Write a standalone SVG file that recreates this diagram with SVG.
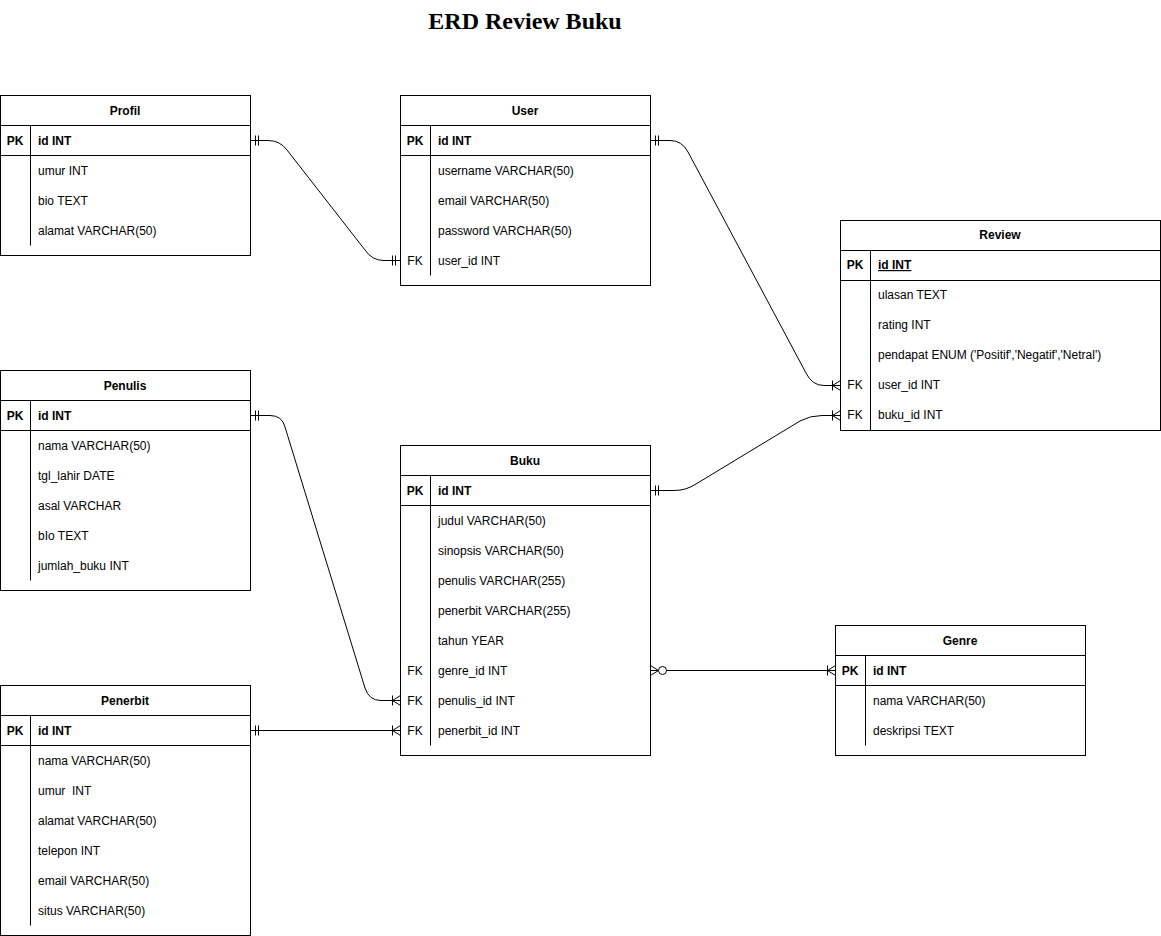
<svg xmlns="http://www.w3.org/2000/svg" width="1161" height="936" viewBox="0 0 1161 936">
<style>
  .box{fill:#fff;stroke:#000;stroke-width:1}
  .ln{stroke:#000;stroke-width:1;fill:none}
  .hd{font-family:"Liberation Sans",Arial,sans-serif;font-size:12px;font-weight:bold;text-anchor:middle;fill:#000}
  .k{font-family:"Liberation Sans",Arial,sans-serif;font-size:12px;text-anchor:middle;fill:#000}
  .kb{font-family:"Liberation Sans",Arial,sans-serif;font-size:12px;font-weight:bold;text-anchor:middle;fill:#000}
  .f{font-family:"Liberation Sans",Arial,sans-serif;font-size:12px;fill:#000}
  .fb{font-family:"Liberation Sans",Arial,sans-serif;font-size:12px;font-weight:bold;fill:#000}
  .title{font-family:"Liberation Serif","Times New Roman",serif;font-size:24px;font-weight:bold;text-anchor:middle;fill:#000}
  .edge{stroke:#000;stroke-width:1;fill:none}
</style>
<defs>
  <marker id="mandOne" markerUnits="userSpaceOnUse" viewBox="-20 -10 30 20" refX="0" refY="0" markerWidth="30" markerHeight="20" orient="auto" overflow="visible">
    <path d="M-5,-5 L-5,5 M-8,-5 L-8,5" stroke="#000" stroke-width="1" fill="none"/>
  </marker>
  <marker id="mandOneStart" markerUnits="userSpaceOnUse" viewBox="-20 -10 30 20" refX="0" refY="0" markerWidth="30" markerHeight="20" orient="auto-start-reverse" overflow="visible">
    <path d="M-5,-5 L-5,5 M-8,-5 L-8,5" stroke="#000" stroke-width="1" fill="none"/>
  </marker>
  <marker id="oneMany" markerUnits="userSpaceOnUse" viewBox="-20 -10 30 20" refX="0" refY="0" markerWidth="30" markerHeight="20" orient="auto" overflow="visible">
    <path d="M-8,0 L0,-5 M-8,0 L0,5 M-8,-5 L-8,5" stroke="#000" stroke-width="1" fill="none"/>
  </marker>
  <marker id="zeroManyStart" markerUnits="userSpaceOnUse" viewBox="-20 -10 30 20" refX="0" refY="0" markerWidth="30" markerHeight="20" orient="auto-start-reverse" overflow="visible">
    <path d="M-8,0 L0,-5 M-8,0 L0,5 M-8,0 L0,0" stroke="#000" stroke-width="1" fill="none"/>
    <circle cx="-12" cy="0" r="4" stroke="#000" stroke-width="1" fill="#fff"/>
  </marker>
</defs>
<rect width="1161" height="936" fill="#fff"/>
<text class="title" x="525" y="29">ERD Review Buku</text>

<g id="connectors">
  <path class="edge" d="M250.5,140.5 L268,140.5 Q280,140.5 287,150 L365,250 Q372,260.5 384,260.5 L400.5,260.5" marker-start="url(#mandOneStart)" marker-end="url(#mandOne)"/>
  <path class="edge" d="M650.5,140.5 L670,140.5 Q682,140.5 688,152 L806,373 Q812,385.5 824,385.5 L840.5,385.5" marker-start="url(#mandOneStart)" marker-end="url(#oneMany)"/>
  <path class="edge" d="M650.5,490.5 L674,490.5 Q686,490.5 696,484 L800,421 Q810,415.5 822,415.5 L840.5,415.5" marker-start="url(#mandOneStart)" marker-end="url(#oneMany)"/>
  <path class="edge" d="M250.5,415.5 L270,415.5 Q282,415.5 285,427 L365,688 Q369,700.5 381,700.5 L400.5,700.5" marker-start="url(#mandOneStart)" marker-end="url(#oneMany)"/>
  <path class="edge" d="M250.5,730.5 L400.5,730.5" marker-start="url(#mandOneStart)" marker-end="url(#oneMany)"/>
  <path class="edge" d="M650.5,670.5 L835.5,670.5" marker-start="url(#zeroManyStart)" marker-end="url(#oneMany)"/>
</g>

<g id="profil">
  <rect class="box" x="0.5" y="95.5" width="250" height="160"/>
  <path class="ln" d="M0.5,125.5 H250.5 M0.5,155.5 H250.5 M30.5,125.5 V245.5"/>
  <text class="hd" x="125" y="115">Profil</text>
  <text class="kb" x="15" y="145">PK</text>
  <text class="fb" x="38" y="145">id INT</text>
  <text class="f" x="38" y="175">umur INT</text>
  <text class="f" x="38" y="205">bio TEXT</text>
  <text class="f" x="38" y="235">alamat VARCHAR(50)</text>
</g>

<g id="user">
  <rect class="box" x="400.5" y="95.5" width="250" height="190"/>
  <path class="ln" d="M400.5,125.5 H650.5 M400.5,155.5 H650.5 M430.5,125.5 V275.5"/>
  <text class="hd" x="525" y="115">User</text>
  <text class="kb" x="415" y="145">PK</text>
  <text class="fb" x="438" y="145">id INT</text>
  <text class="f" x="438" y="175">username VARCHAR(50)</text>
  <text class="f" x="438" y="205">email VARCHAR(50)</text>
  <text class="f" x="438" y="235">password VARCHAR(50)</text>
  <text class="k" x="415" y="265">FK</text>
  <text class="f" x="438" y="265">user_id INT</text>
</g>

<g id="review">
  <rect class="box" x="840.5" y="220.5" width="320" height="210"/>
  <path class="ln" d="M840.5,250.5 H1160.5 M840.5,280.5 H1160.5 M870.5,250.5 V430.5"/>
  <text class="hd" x="1000" y="239">Review</text>
  <text class="kb" x="855" y="269">PK</text>
  <text class="fb" x="878" y="269" text-decoration="underline">id INT</text>
  <text class="f" x="878" y="299">ulasan TEXT</text>
  <text class="f" x="878" y="329">rating INT</text>
  <text class="f" x="878" y="359">pendapat ENUM ('Positif','Negatif','Netral')</text>
  <text class="k" x="855" y="389">FK</text>
  <text class="f" x="878" y="389">user_id INT</text>
  <text class="k" x="855" y="419">FK</text>
  <text class="f" x="878" y="419">buku_id INT</text>
</g>

<g id="penulis">
  <rect class="box" x="0.5" y="370.5" width="250" height="220"/>
  <path class="ln" d="M0.5,400.5 H250.5 M0.5,430.5 H250.5 M30.5,400.5 V580.5"/>
  <text class="hd" x="125" y="390">Penulis</text>
  <text class="kb" x="15" y="420">PK</text>
  <text class="fb" x="38" y="420">id INT</text>
  <text class="f" x="38" y="450">nama VARCHAR(50)</text>
  <text class="f" x="38" y="480">tgl_lahir DATE</text>
  <text class="f" x="38" y="510">asal VARCHAR</text>
  <text class="f" x="38" y="540">bIo TEXT</text>
  <text class="f" x="38" y="570">jumlah_buku INT</text>
</g>

<g id="buku">
  <rect class="box" x="400.5" y="445.5" width="250" height="310"/>
  <path class="ln" d="M400.5,475.5 H650.5 M400.5,505.5 H650.5 M430.5,475.5 V745.5"/>
  <text class="hd" x="525" y="465">Buku</text>
  <text class="kb" x="415" y="495">PK</text>
  <text class="fb" x="438" y="495">id INT</text>
  <text class="f" x="438" y="525">judul VARCHAR(50)</text>
  <text class="f" x="438" y="555">sinopsis VARCHAR(50)</text>
  <text class="f" x="438" y="585">penulis VARCHAR(255)</text>
  <text class="f" x="438" y="615">penerbit VARCHAR(255)</text>
  <text class="f" x="438" y="645">tahun YEAR</text>
  <text class="k" x="415" y="675">FK</text>
  <text class="f" x="438" y="675">genre_id INT</text>
  <text class="k" x="415" y="705">FK</text>
  <text class="f" x="438" y="705">penulis_id INT</text>
  <text class="k" x="415" y="735">FK</text>
  <text class="f" x="438" y="735">penerbit_id INT</text>
</g>

<g id="genre">
  <rect class="box" x="835.5" y="625.5" width="250" height="130"/>
  <path class="ln" d="M835.5,655.5 H1085.5 M835.5,685.5 H1085.5 M865.5,655.5 V745.5"/>
  <text class="hd" x="960" y="645">Genre</text>
  <text class="kb" x="850" y="675">PK</text>
  <text class="fb" x="873" y="675">id INT</text>
  <text class="f" x="873" y="705">nama VARCHAR(50)</text>
  <text class="f" x="873" y="735">deskripsi TEXT</text>
</g>

<g id="penerbit">
  <rect class="box" x="0.5" y="685.5" width="250" height="250"/>
  <path class="ln" d="M0.5,715.5 H250.5 M0.5,745.5 H250.5 M30.5,715.5 V925.5"/>
  <text class="hd" x="125" y="705">Penerbit</text>
  <text class="kb" x="15" y="735">PK</text>
  <text class="fb" x="38" y="735">id INT</text>
  <text class="f" x="38" y="765">nama VARCHAR(50)</text>
  <text class="f" x="38" y="795" xml:space="preserve">umur  INT</text>
  <text class="f" x="38" y="825">alamat VARCHAR(50)</text>
  <text class="f" x="38" y="855">telepon INT</text>
  <text class="f" x="38" y="885">email VARCHAR(50)</text>
  <text class="f" x="38" y="915">situs VARCHAR(50)</text>
</g>
</svg>
